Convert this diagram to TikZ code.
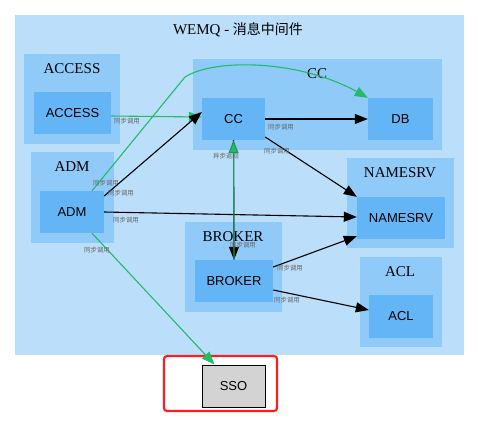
\documentclass[tikz,border=0pt]{standalone}
\usepackage{fontspec}
\setmainfont{Liberation Serif}
\newfontfamily\nodefont{Liberation Sans}
\newfontfamily\cjk{Noto Sans CJK SC}
\usetikzlibrary{arrows.meta,calc}
\definecolor{outerc}{HTML}{BBDEFB}
\definecolor{clusterc}{HTML}{90CAF9}
\definecolor{nodec}{HTML}{64B5F6}
\definecolor{greenc}{HTML}{22BB66}
\definecolor{dgreenc}{HTML}{1E965A}
\definecolor{lblc}{HTML}{666666}
\definecolor{ssoc}{HTML}{D3D3D3}
\definecolor{redc}{HTML}{FF1E1E}
\tikzset{
  svc/.style={fill=nodec, draw=none, inner sep=0pt, font=\nodefont\fontsize{13}{15}\selectfont},
  ctitle/.style={font=\fontsize{15}{17}\selectfont, inner sep=0pt},
  lbl/.style={font=\cjk\fontsize{6.4}{7}\selectfont, text=lblc, inner sep=0pt},
  blk/.style={draw=black, line width=1.1pt, -{Triangle[length=13pt,width=10pt]}},
  grn/.style={draw=greenc, line width=1.1pt, -{Triangle[length=13pt,width=10pt]}},
}
\begin{document}
\begin{tikzpicture}[x=1pt,y=-1pt]
\useasboundingbox (0,0) rectangle (478,421);
\fill[white] (0,0) rectangle (478,421);
% outer cluster
\fill[outerc] (15,15) rectangle (464,355);
\node[ctitle] (wemqt) at (238,30) {WEMQ - {\cjk\fontsize{14}{16}\selectfont 消息中间件}};
% clusters
\fill[clusterc] (24,54) rectangle (120,144);
\fill[clusterc] (31,152) rectangle (114,243);
\fill[clusterc] (193,59) rectangle (442,150);
\fill[clusterc] (347,158) rectangle (454,248);
\fill[clusterc] (185,222) rectangle (282,312);
\fill[clusterc] (360,257) rectangle (442,347);
\node[ctitle] (accesst) at (72,69) {ACCESS};
\node[ctitle] (admt) at (72,167) {ADM};
\node[ctitle] (cct) at (317,74) {CC};
\node[ctitle] (namesrvt) at (400,173) {NAMESRV};
\node[ctitle] (brokert) at (233,237) {BROKER};
\node[ctitle] (aclt) at (400,272) {ACL};
% nodes
\node[svc, minimum width=77pt, minimum height=42pt] (access) at (72.5,113) {ACCESS};
\node[svc, minimum width=64pt, minimum height=42pt] (adm) at (72,212) {ADM};
\node[svc, minimum width=63pt, minimum height=42pt] (cc) at (233.5,119) {CC};
\node[svc, minimum width=65pt, minimum height=42pt] (db) at (400.5,119) {DB};
\node[svc, minimum width=88pt, minimum height=42pt] (namesrv) at (401,218) {NAMESRV};
\node[svc, minimum width=78pt, minimum height=42pt] (broker) at (234,281) {BROKER};
\node[svc, minimum width=64pt, minimum height=43pt] (acl) at (401,316.5) {ACL};
\node[svc, fill=ssoc, draw=black, line width=1pt, minimum width=63pt, minimum height=42pt] (sso) at (233.5,386) {SSO};
% red highlight
\draw[draw=redc, line width=2.2pt, rounded corners=3pt] (164,356) rectangle (277,411);
% edges
\coordinate (bend1) at (185,77);
\draw[grn] (access.east |- 0,116) -- (cc.west |- 0,117);
\node[lbl] (l1) at (127,121) {同步调用};
\draw[grn] ($(adm.north)+(20,0)$) -- (bend1) .. controls (215,58) and (300,60) .. (db.north west);
\node[lbl] (l2) at (106,183) {同步调用};
\draw[blk] (adm.east |- 0,196) -- (cc.west |- 0,112);
\node[lbl] (l3) at (121,193) {同步调用};
\draw[blk] (adm.east |- 0,212) -- (namesrv.west |- 0,217);
\node[lbl] (l4) at (126,220) {同步调用};
\draw[grn] ($(adm.south)+(20,0)$) -- ($(sso.north west)+(13,0)$);
\node[lbl] (l5) at (97,250) {同步调用};
\draw[blk] (cc.east |- 0,119) -- (db.west |- 0,119);
\node[lbl] (l6) at (281,127) {同步调用};
\draw[blk] (cc.east |- 0,137) -- (namesrv.north west);
\node[lbl] (l7) at (277,151) {同步调用};
\draw[blk] (cc.south) -- (broker.north);
\draw[draw=dgreenc, line width=1.1pt, -{Triangle[length=13pt,width=10pt,fill=greenc]}] (broker.north) -- (cc.south);
\node[lbl] (l8) at (226,156) {异步返回};
\node[lbl] (l9) at (243,245) {同步调用};
\draw[blk] (broker.east |- 0,267) -- ($(namesrv.south west)+(0,-3)$);
\node[lbl] (l10) at (290,268) {同步调用};
\draw[blk] (broker.east |- 0,290) -- (acl.west |- 0,310);
\node[lbl] (l11) at (287,300) {同步调用};
\end{tikzpicture}
\end{document}
